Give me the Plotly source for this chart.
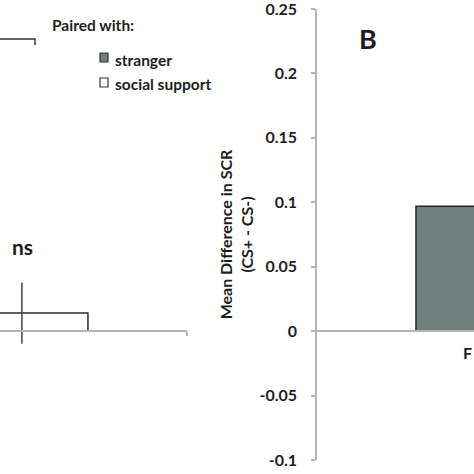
import plotly.graph_objects as go

# ---- data ----
panel_a_x = [0]
panel_a_social_support = [0.014]
panel_a_err = [0.0237]
panel_b_categories = ["F"]
panel_b_stranger = [0.097]
y_tick_vals = [-0.1, -0.05, 0, 0.05, 0.1, 0.15, 0.2, 0.25]
y_tick_text = ["-0.1", "-0.05", "0", "0.05", "0.1", "0.15", "0.2", "0.25"]
legend_labels = ["stranger", "social support"]

W = H = 474
FONT = "Lato"
GRAY_FILL = "#6f7f7e"
AXIS_GRAY = "#b4b4b4"
TEXT = "#1e1e1e"

def px(x):
    return x / W

def py(y):
    return 1 - y / H

y_range = [-0.1, 0.25]
y_dom = [py(460), py(9)]
zero_pos = y_dom[0] + (0 - y_range[0]) / (y_range[1] - y_range[0]) * (y_dom[1] - y_dom[0])

fig = go.Figure()

fig.add_trace(go.Bar(
    x=panel_a_x, y=panel_a_social_support, width=0.8,
    marker=dict(color="white", line=dict(color="#2a2a2a", width=1.5)),
    error_y=dict(type="data", array=panel_a_err, color="#444444", thickness=1.5, width=0),
    xaxis="x", yaxis="y", showlegend=False, name=legend_labels[1],
))

fig.add_trace(go.Bar(
    x=panel_b_categories, y=panel_b_stranger, width=0.6,
    marker=dict(color=GRAY_FILL, line=dict(color="#262626", width=1.5)),
    xaxis="x2", yaxis="y2", showlegend=False, name=legend_labels[0],
))

tickfont = dict(family=FONT, size=16, color=TEXT, weight="bold")

fig.update_layout(
    width=W, height=H,
    margin=dict(l=0, r=0, t=0, b=0, autoexpand=False),
    paper_bgcolor="white", plot_bgcolor="white",
    showlegend=False,
    xaxis=dict(domain=[0, px(187)], range=[-0.133, 1.0005], anchor="free", position=zero_pos,
               automargin=False,
               showline=True, linecolor=AXIS_GRAY, linewidth=1.5, showgrid=False, zeroline=False,
               tickmode="array", tickvals=[1.0], ticks="outside", ticklen=4, tickcolor=AXIS_GRAY,
               tickwidth=1.5, showticklabels=False),
    yaxis=dict(domain=y_dom, range=y_range, visible=False, anchor="x", automargin=False),
    xaxis2=dict(domain=[px(317), 1], range=[-0.8766, 0.0379], type="category",
                anchor="free", position=zero_pos, automargin=False,
                showline=True, linecolor=AXIS_GRAY, linewidth=1.5, showgrid=False, zeroline=False,
                ticks="", tickfont=tickfont, ticklabelstandoff=8, ticklabeloverflow="allow"),
    yaxis2=dict(domain=y_dom, range=y_range, anchor="x2", automargin=False,
                showline=True, linecolor=AXIS_GRAY,
                linewidth=1.5, showgrid=False, zeroline=False,
                tickmode="array", tickvals=y_tick_vals, ticktext=y_tick_text,
                ticks="outside", ticklen=4, tickcolor=AXIS_GRAY, tickwidth=1.5,
                tickfont=tickfont, ticklabelstandoff=11, ticklabeloverflow="allow",
                title=dict(text="Mean Difference in SCR<br>(CS+ - CS-)",
                           font=dict(family=FONT, size=16, color=TEXT, weight="bold"),
                           standoff=2)),
)

annotations = [
    dict(text="B", x=px(368), y=py(38), font=dict(family=FONT, size=27, color=TEXT, weight="bold")),
    dict(text="ns", x=px(22), y=py(246), font=dict(family=FONT, size=21, color=TEXT, weight="bold")),
    dict(text="Paired with:", x=px(50), y=py(25), xanchor="left",
         font=dict(family=FONT, size=15.5, color=TEXT, weight="bold")),
    dict(text=legend_labels[0], x=px(113), y=py(60), xanchor="left",
         font=dict(family=FONT, size=15.5, color=TEXT, weight="bold")),
    dict(text=legend_labels[1], x=px(113), y=py(84), xanchor="left",
         font=dict(family=FONT, size=15.5, color=TEXT, weight="bold")),
]
for a in annotations:
    a.update(xref="paper", yref="paper", showarrow=False, yanchor="middle", xanchor=a.get("xanchor", "center"))
fig.update_layout(annotations=annotations)

shapes = [
    dict(type="path", path=f"M {px(-2)},{py(39)} L {px(35)},{py(39)} L {px(35)},{py(45)}",
         line=dict(color="#333333", width=1.5)),
    dict(type="rect", x0=px(100), x1=px(108), y0=py(62), y1=py(53),
         fillcolor=GRAY_FILL, line=dict(color="#333333", width=1.2)),
    dict(type="rect", x0=px(100), x1=px(108), y0=py(87), y1=py(78),
         fillcolor="white", line=dict(color="#333333", width=1.2)),
]
for s in shapes:
    s.update(xref="paper", yref="paper")
fig.update_layout(shapes=shapes)

post = (
    "document.documentElement.style.margin='0';"
    "document.documentElement.style.overflow='hidden';"
    "document.body.style.margin='0';"
    "document.body.style.overflow='hidden';"
    "var d=document.getElementsByClassName('plotly-graph-div')[0];"
    "d.style.position='fixed';d.style.top='0px';d.style.left='0px';"
)

fig.write_html("out.html", config={"displayModeBar": False}, post_script=post)
